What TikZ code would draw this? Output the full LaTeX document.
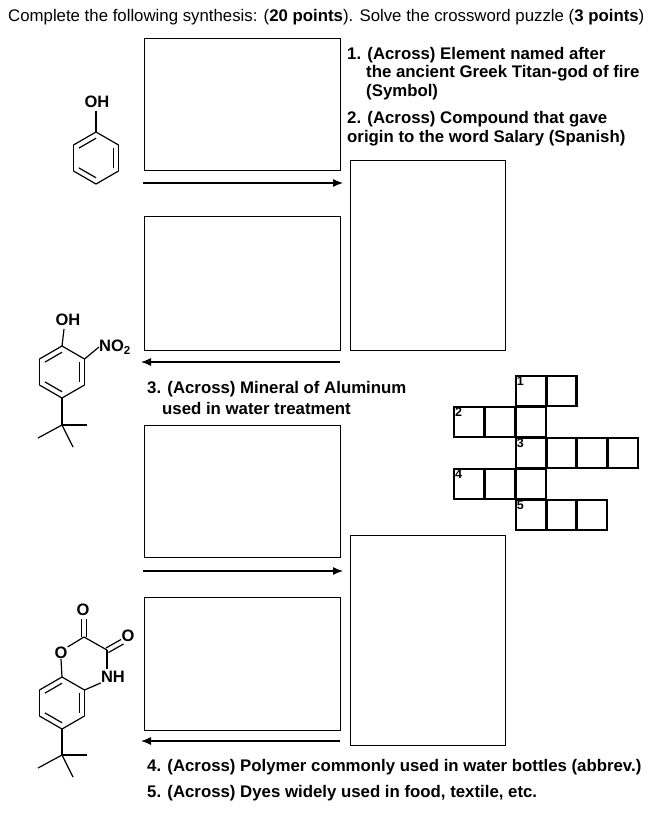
\documentclass[tikz,border=0pt]{standalone}
\usepackage{fontspec}
\setmainfont{Liberation Sans}
\usetikzlibrary{arrows.meta}
\begin{document}
\begin{tikzpicture}[x=1pt,y=-1pt,
  box/.style={draw,line width=1.2pt},
  arr/.style={line width=1.2pt,-{Latex[length=10pt,width=8pt]}},
  txt/.style={anchor=west,inner sep=0pt,font=\fontsize{16.8}{18.5}\selectfont\bfseries},
  lbl/.style={inner sep=0pt,font=\fontsize{16.5}{18}\selectfont\bfseries},
  bd/.style={line width=1.2pt},
  cell/.style={draw,line width=2.2pt,minimum size=30pt,inner sep=0pt,anchor=north west},
  num/.style={anchor=north west,inner sep=2pt,font=\fontsize{12.5}{12.5}\selectfont\bfseries}]
\useasboundingbox (0,0) rectangle (654,830);
\node[anchor=west,inner sep=0pt,font=\fontsize{16.8}{18}\selectfont] (title) at (8,17) {Complete the following synthesis: (\textbf{20 points}). Solve the crossword puzzle (\textbf{3 points})};
% boxes
\node[box,minimum width=196pt,minimum height=132pt,anchor=north west] (bA) at (144,38) {};
\node[box,minimum width=155pt,minimum height=190pt,anchor=north west] (bB) at (350,160) {};
\node[box,minimum width=196pt,minimum height=134pt,anchor=north west] (bC) at (144,216) {};
\node[box,minimum width=196pt,minimum height=132pt,anchor=north west] (bD) at (144,425) {};
\node[box,minimum width=155pt,minimum height=210pt,anchor=north west] (bE) at (350,535) {};
\node[box,minimum width=196pt,minimum height=133pt,anchor=north west] (bF) at (144,597) {};
% arrows
\coordinate (a1s) at (143,183); \coordinate (a1e) at (343,183);
\coordinate (a2s) at (340,362); \coordinate (a2e) at (141,362);
\coordinate (a3s) at (143,571); \coordinate (a3e) at (343,571);
\coordinate (a4s) at (340,741); \coordinate (a4e) at (141,741);
\draw[arr] (a1s) -- (a1e);
\draw[arr] (a2s) -- (a2e);
\draw[arr] (a3s) -- (a3e);
\draw[arr] (a4s) -- (a4e);
% clues
\node[txt] (c1a) at (347,55) {1. (Across) Element named after};
\node[txt] (c1b) at (366,73) {the ancient Greek Titan-god of fire};
\node[txt] (c1c) at (366,92) {(Symbol)};
\node[txt] (c2a) at (347,119) {2. (Across) Compound that gave};
\node[txt] (c2b) at (347,138) {origin to the word Salary (Spanish)};
\node[txt] (c3a) at (147,389) {3. (Across) Mineral of Aluminum};
\node[txt] (c3b) at (162,408) {used in water treatment};
\node[txt] (c4) at (147,767) {4. (Across) Polymer commonly used in water bottles (abbrev.)};
\node[txt] (c5) at (147,793) {5. (Across) Dyes widely used in food, textile, etc.};
% crossword
\foreach \c in {3,4}{\node[cell] at ({453+(\c-1)*30.8},375) {};}
\foreach \c in {1,2,3}{\node[cell] at ({453+(\c-1)*30.8},406) {};}
\foreach \c in {3,4,5,6}{\node[cell] at ({453+(\c-1)*30.8},437) {};}
\foreach \c in {1,2,3}{\node[cell] at ({453+(\c-1)*30.8},468) {};}
\foreach \c in {3,4,5}{\node[cell] at ({453+(\c-1)*30.8},499) {};}
\node[num] (n1) at (514.6,375) {1};
\node[num] (n2) at (453,406) {2};
\node[num] (n3) at (514.6,437) {3};
\node[num] (n4) at (453,468) {4};
\node[num] (n5) at (514.6,499) {5};
% rings
\def\R{26}
\foreach \cx/\cy in {96/158, 62/372, 62/703}{
  \foreach \a in {-90,-30,30,90,150,210}{
    \draw[bd] ({\cx+\R*cos(\a)},{\cy+\R*sin(\a)}) -- ({\cx+\R*cos(\a+60)},{\cy+\R*sin(\a+60)});}
  \foreach \a in {-150,-30,90}{
    \draw[bd] ({\cx+0.76*\R*cos(\a)},{\cy+0.76*\R*sin(\a)}) -- ({\cx+0.76*\R*cos(\a+60)},{\cy+0.76*\R*sin(\a+60)});}
}
% phenol OH
\node[lbl] (oh1) at (97,102) {OH};
\draw[bd] (96,132) -- (96,111);
% nitrophenol
\node[lbl] (oh2) at (68,320) {OH};
\draw[bd] (62,346) -- (64,329);
\node[lbl,anchor=west] (no2) at (99,347) {NO\textsubscript{2}};
\draw[bd] (84.5,359) -- (no2.west);
\draw[bd] (62,398) -- (62,425) coordinate (q1);
\draw[bd] (q1) -- (87,425); \draw[bd] (q1) -- (38,438); \draw[bd] (q1) -- (73,447);
% benzoxazinedione
\coordinate (c8a) at (62,677); \coordinate (c4a) at (84.5,690);
\node[lbl] (o1) at (61,653) {O};
\coordinate (c2) at (84,637); \coordinate (c3) at (107,650);
\node[lbl] (nh) at (113,677) {NH};
\draw[bd] (c8a) -- (o1.south);
\draw[bd] (o1.north east) -- (c2);
\draw[bd] (c2) -- (c3);
\draw[bd] (c3) -- (107,669);
\draw[bd] (c4a) -- (nh.south west);
\node[lbl] (o2) at (83,610) {O};
\node[lbl] (o3) at (128,636) {O};
\draw[bd] (81.5,637) -- (81.5,619); \draw[bd] (86.5,637) -- (86.5,619);
\draw[bd] (106,648) -- (121,639.5); \draw[bd] (108.5,652.5) -- (123.5,644);
\draw[bd] (62,729) -- (62,755) coordinate (q2);
\draw[bd] (q2) -- (87,755); \draw[bd] (q2) -- (38,768); \draw[bd] (q2) -- (73,777);
\end{tikzpicture}
\end{document}
